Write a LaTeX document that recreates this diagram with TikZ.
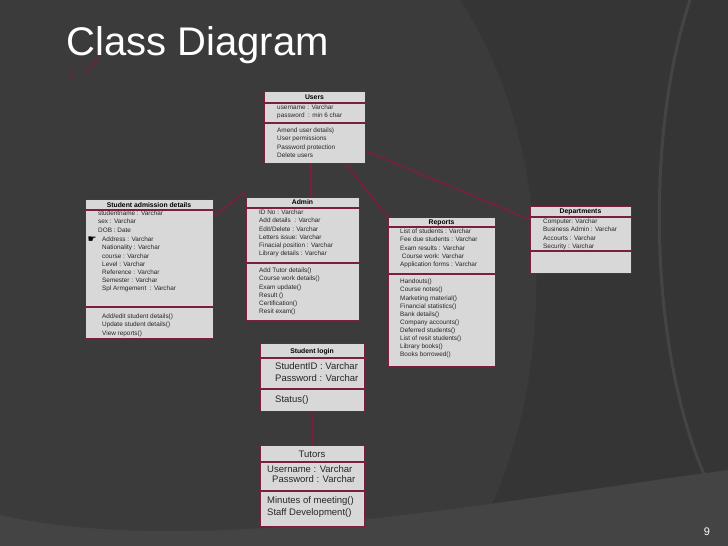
\documentclass[tikz,border=0pt]{standalone}
\usepackage{fontspec}
\setmainfont{Liberation Sans}
\usetikzlibrary{calc}
\definecolor{bg}{HTML}{3B3B3B}
\definecolor{bgd}{HTML}{353535}
\definecolor{bgl}{HTML}{444444}
\definecolor{edge}{HTML}{7A1F3D}
\definecolor{boxf}{HTML}{D8D8D8}
\tikzset{
 cbox/.style={draw=edge,fill=boxf,line width=1.1pt,anchor=north west,inner sep=0pt},
 div/.style={draw=edge,line width=1.1pt},
 conn/.style={draw=edge,line width=1.6pt},
 ttl/.style={font=\fontsize{6.8}{8}\selectfont\bfseries,inner sep=0pt},
 txt/.style={font=\fontsize{6.4}{8.1}\selectfont,align=left,anchor=north west,inner sep=0pt,text=black!85},
 big/.style={font=\fontsize{9.5}{12}\selectfont,align=left,anchor=north west,inner sep=0pt,text=black!85},
}
\begin{document}
\begin{tikzpicture}[x=1pt,y=-1pt]
\useasboundingbox (0,0) rectangle (728,546);
\begin{scope}
\clip (0,0) rectangle (728,546);
\fill[bg] (0,0) rectangle (728,546);
\fill[bgd] (460,0) .. controls (560,150) and (560,400) .. (470,546) -- (728,546) -- (728,0) -- cycle;
\fill[bgl] (0,546) -- (0,515) .. controls (200,560) and (500,500) .. (728,470) -- (728,546) -- cycle;
\draw[bgl,line width=3pt] (690,0) .. controls (640,150) and (650,400) .. (728,520);
\end{scope}
\node[anchor=base west,text=white,font=\fontsize{40}{40}\selectfont] (title) at (63,55) {Class Diagram};
\coordinate (m1) at (99,58); \coordinate (m2) at (85,73);
\draw[edge,line width=1.3pt] (m1) -- (m2);
\coordinate (m3) at (72,68); \coordinate (m4) at (70,78);
\draw[edge,line width=1pt] (m3) -- (m4);
\node[text=white,font=\fontsize{11}{11}\selectfont] (pg) at (707,532) {9};

% Users
\node[cbox,minimum width=101,minimum height=72] (users) at (264,91) {};
\draw[div] (264,103) -- (365,103); \draw[div] (264,123) -- (365,123);
\node[ttl] at (314.5,97) {Users};
\node[txt] at (277,105) {username : Varchar\\password\ \ : min 6 char};
\node[txt] at (277,128) {Amend user details)\\User permissions\\Password protection\\Delete users};

% Admin
\node[cbox,minimum width=113,minimum height=123] (admin) at (246,197) {};
\draw[div] (246,208) -- (359,208); \draw[div] (246,263) -- (359,263);
\node[ttl] at (302.5,202.5) {Admin};
\node[txt] at (259,210) {ID No : Varchar\\Add details\ \ : Varchar\\Edit/Delete : Varchar\\Letters issue: Varchar\\Finacial position : Varchar\\Library details : Varchar};
\node[txt] at (259,268) {Add Tutor details()\\Course work details()\\Exam update()\\Result ()\\Certification()\\Resit exam()};

% Student admission
\node[cbox,minimum width=128,minimum height=139] (sad) at (85,199) {};
\draw[div] (85,210) -- (213,210); \draw[div] (85,307) -- (213,307);
\node[ttl] at (149,205) {Student admission details};
\node[txt] at (98,211) {studentname : Varchar\\sex : Varchar\\DOB : Date};
\node[txt] at (102,237) {Address : Varchar\\Nationality : Varchar\\course : Varchar\\Level : Varchar\\Reference : Varchar\\Semester : Varchar\\Spl Armgement\ \ : Varchar};
\node[font=\fontsize{10}{10}\selectfont] (hand) at (92,240) {\fontspec{DejaVu Sans}☛};
\node[txt] at (102,314) {Add/edit student details()\\Update student details()\\View reports()};

% Reports
\node[cbox,minimum width=107,minimum height=149] (rep) at (388,217) {};
\draw[div] (388,227) -- (495,227); \draw[div] (388,274) -- (495,274);
\node[ttl] at (441.5,222.5) {Reports};
\node[txt] at (400,229) {List of students : Varchar\\Fee due students : Varchar\\Exam results : Varchar\\\ Course work: Varchar\\Application forms : Varchar};
\node[txt] at (400,279) {Handouts()\\Course notes()\\Marketing material()\\Financial statistics()\\Bank details()\\Company accounts()\\Deferred students()\\List of resit students()\\Library books()\\Books borrowed()};

% Departments
\node[cbox,minimum width=101,minimum height=67] (dep) at (530,206) {};
\draw[div] (530,217) -- (631,217); \draw[div] (530,251) -- (631,251);
\node[ttl] at (580.5,212) {Departments};
\node[txt] at (543,219) {Computer: Varchar\\Business Admin : Varchar\\Accourts : Varchar\\Security : Varchar};

% Student login
\node[cbox,minimum width=104,minimum height=68] (slog) at (260,343) {};
\draw[div] (260,358) -- (364,358); \draw[div] (260,389) -- (364,389);
\node[ttl] at (312,351.5) {Student login};
\node[big] at (275,362) {StudentID : Varchar\\Password : Varchar};
\node[big] at (275,395) {Status()};

% Tutors
\node[cbox,minimum width=104,minimum height=81] (tut) at (260,445) {};
\draw[div] (260,462) -- (364,462); \draw[div] (260,491) -- (364,491);
\node[font=\fontsize{9.5}{9.5}\selectfont,text=black!85] at (312,454) {Tutors};
\node[txt,font=\fontsize{9.5}{9.5}\selectfont] at (267,465) {Username : Varchar};
\node[txt,font=\fontsize{9.5}{9.5}\selectfont] at (272,475) {Password : Varchar};
\node[big] at (267,496) {Minutes of meeting()\\Staff Development()};

% connectors
\draw[conn] ($(users.south west)!0.46!(users.south east)$) -- ($(admin.north west)!0.57!(admin.north east)$);
\draw[conn] ($(users.south west)!0.8!(users.south east)$) -- ($(rep.north west)!0!(rep.north east)$);
\draw[conn] ($(users.north east)!0.82!(users.south east)$) -- ($(dep.north west)!0.2!(dep.south west)$);
\draw[conn] ($(sad.north east)!0.12!(sad.south east)$) -- ($(admin.north west)+(0,-6)$);
\draw[conn] (slog.south) -- (tut.north);
\end{tikzpicture}
\end{document}
